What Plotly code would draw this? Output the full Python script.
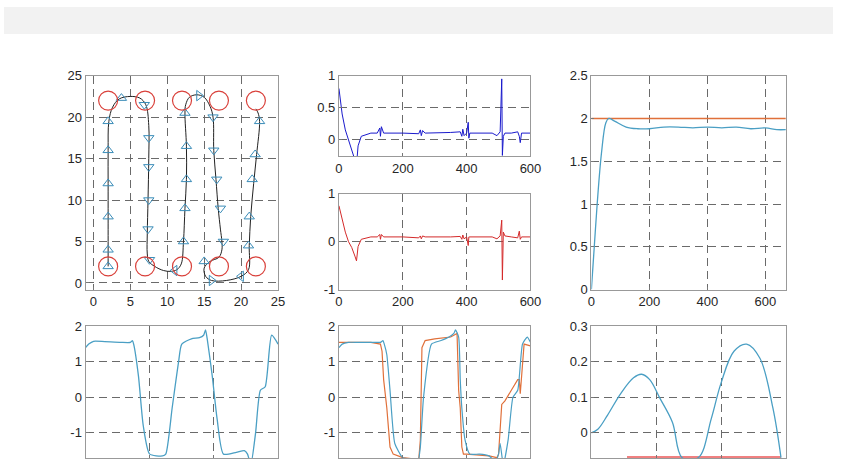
import plotly.graph_objects as go

# waypoints
wp_x = [2, 7, 12, 17, 22, 2, 7, 12, 17, 22]
wp_y = [22, 22, 22, 22, 22, 2, 2, 2, 2, 2]
# path
path_x = [2, 2, 2, 2, 2, 2.1, 2.6, 3.5, 5, 6.3, 7.1, 7.5, 7.5, 7.4, 7.3, 7.3, 7.5, 8.3, 9.5, 10.5, 11.3, 11.9, 12.2, 12.4, 12.6, 12.6, 12.4, 12.5, 13, 14, 15, 15.8, 16.2, 16.3, 16.6, 16.9, 17.2, 17.4, 17.4, 17, 15.8, 15, 15.2, 16, 18, 20, 21, 21.1, 21.3, 21.7, 22.1, 22.5, 22.3, 22]
path_y = [2, 5, 8, 12, 16, 19.5, 21.2, 22.2, 22.5, 22.3, 21.5, 19, 15, 10, 6, 3.5, 2.6, 2, 1.5, 1.4, 1.6, 2.3, 5, 9, 12.5, 16.5, 20.5, 21.5, 22.4, 22.7, 22.4, 21.3, 20, 16, 12.5, 9, 6.5, 5, 4, 3.1, 2.6, 1.8, 0.8, 0.3, 0.3, 0.8, 1.6, 4.5, 8, 12, 15.5, 19.5, 20.5, 21]
arr_x = [2, 2, 2, 2, 2, 2, 3.8, 6.9, 7.5, 7.5, 7.5, 7.4, 7.6, 11, 12.2, 12.4, 12.6, 12.6, 12.4, 14.3, 16.2, 16.3, 16.7, 17.2, 17.6, 15, 16, 20, 21, 21.1, 21.5, 21.9, 22.5]
arr_y = [2, 4, 8, 12, 16, 19.5, 22.3, 21.5, 17.5, 14, 10, 6.5, 2.8, 1.5, 5, 9, 12.5, 16.5, 20.5, 22.6, 20, 16, 12.5, 9, 5, 2.6, 0.3, 0.8, 4.5, 8, 12.5, 15.5, 19.5]
arr_sym = ["triangle-up"]*7 + ["triangle-down"]*6 + ["triangle-left"] + ["triangle-up"]*5 + ["triangle-right"] + ["triangle-down"]*5 + ["triangle-up", "triangle-right", "triangle-left"] + ["triangle-up"]*5

# error signals
e_t = [0, 10, 20, 30, 40, 50, 55, 60, 70, 100, 120, 128, 130, 133, 140, 200, 250, 255, 258, 262, 270, 350, 380, 385, 388, 392, 400, 405, 407, 410, 480, 495, 500, 505, 510, 512, 515, 520, 540, 560, 565, 568, 572, 580, 605]
e1 = [0.8, 0.4, 0.15, 0.0, -0.12, -0.3, -0.4, -0.1, 0.05, 0.1, 0.1, 0.18, 0.05, 0.2, 0.1, 0.1, 0.09, 0.15, 0.06, 0.14, 0.1, 0.11, 0.12, 0.05, 0.16, 0.06, 0.1, 0.27, 0.02, 0.1, 0.1, 0.06, 0.1, 0.12, 0.95, -0.25, 0.05, 0.1, 0.1, 0.12, 0.05, -0.05, 0.1, 0.1, 0.1]
e2 = [0.75, 0.45, 0.2, 0.0, -0.12, -0.3, -0.4, -0.1, 0.05, 0.1, 0.1, 0.15, 0.05, 0.15, 0.1, 0.1, 0.08, 0.12, 0.06, 0.12, 0.1, 0.1, 0.11, 0.05, 0.14, 0.06, 0.1, -0.08, 0.1, 0.1, 0.1, 0.06, 0.1, 0.12, 0.45, -0.8, 0.2, 0.12, 0.1, 0.08, 0.22, 0.05, 0.1, 0.1, 0.1]

# speed
v_t = [0, 10, 20, 35, 50, 60, 80, 120, 160, 200, 250, 300, 350, 400, 450, 500, 550, 600, 640, 671]
v = [0, 0.5, 1.0, 1.6, 1.95, 2.0, 1.97, 1.9, 1.88, 1.88, 1.9, 1.9, 1.89, 1.9, 1.89, 1.9, 1.88, 1.89, 1.87, 1.87]
v_ref = [2.0] * len(v_t)

# heading
h_t = [0, 10, 25, 60, 110, 140, 146, 150, 165, 180, 200, 240, 250, 270, 290, 300, 330, 355, 368, 374, 380, 395, 410, 430, 470, 495, 505, 515, 530, 545, 560, 580, 600]
h = [1.4, 1.5, 1.58, 1.57, 1.55, 1.55, 1.6, 1.5, 0.6, -0.8, -1.6, -1.65, -1.6, -0.3, 1.0, 1.5, 1.65, 1.68, 1.75, 1.9, 1.6, 0.6, -0.6, -1.6, -1.55, -1.5, -1.6, -1.9, -1.0, 0.2, 0.3, 1.75, 1.5]
h2_t = [0, 10, 30, 60, 110, 130, 138, 142, 150, 160, 175, 200, 240, 248, 255, 265, 290, 320, 345, 360, 365, 375, 380, 385, 395, 410, 440, 470, 490, 500, 505, 515, 530, 545, 560, 575, 590, 600]
h2 = [1.4, 1.5, 1.55, 1.55, 1.55, 1.55, 1.6, 1.5, 1.2, 0.2, -1.3, -1.7, -1.75, -1.8, -1.4, 0.0, 1.5, 1.6, 1.7, 1.8, 1.9, 1.7, 0.5, -0.3, -1.2, -1.6, -1.6, -1.65, -1.8, -1.6, -1.3, -1.9, -1.2, 0.0, 0.2, 1.5, 1.7, 1.55]
h2r_t = [0, 100, 130, 135, 140, 150, 160, 170, 200, 250, 255, 260, 270, 300, 350, 370, 375, 380, 385, 390, 400, 470, 495, 500, 510, 520, 540, 560, 565, 568, 580, 600]
h2r = [1.55, 1.55, 1.5, 1.3, 0.5, -0.3, -1.4, -1.6, -1.7, -1.75, -1.2, 1.4, 1.6, 1.65, 1.7, 1.8, 0.2, -0.3, -1.4, -1.6, -1.6, -1.65, -1.7, -1.6, -0.2, -0.1, 0.2, 0.5, 0.5, 0.1, 1.5, 1.45]

# lateral
l_t = [0, 20, 50, 90, 130, 155, 180, 210, 250, 280, 330, 370, 400, 440, 479, 520, 560, 585]
lat = [0, 0.01, 0.05, 0.11, 0.155, 0.165, 0.15, 0.1, 0.03, -0.07, -0.07, 0.04, 0.14, 0.23, 0.25, 0.21, 0.07, -0.07]
lr_t = [110, 585]
lr = [-0.068, -0.068]

fig = go.Figure()
BLUE = "#4a9fc4"
ORANGE = "#e0703a"
fig.add_trace(go.Scatter(x=path_x, y=path_y, mode="lines", line=dict(color="#222", width=1, shape="spline"), xaxis="x", yaxis="y"))
fig.add_trace(go.Scatter(x=arr_x, y=arr_y, mode="markers", marker=dict(symbol=arr_sym, size=9, color="rgba(0,0,0,0)", line=dict(color="#3a8cb8", width=1)), xaxis="x", yaxis="y"))
fig.add_trace(go.Scatter(x=wp_x, y=wp_y, mode="markers", marker=dict(symbol="circle-open", size=19, color="#d9403a", line=dict(width=1.2)), xaxis="x", yaxis="y"))
fig.add_trace(go.Scatter(x=e_t, y=e1, mode="lines", line=dict(color="#1a1acc", width=1), xaxis="x2", yaxis="y2"))
fig.add_trace(go.Scatter(x=e_t, y=e2, mode="lines", line=dict(color="#d42a2a", width=1), xaxis="x3", yaxis="y3"))
fig.add_trace(go.Scatter(x=v_t, y=v_ref, mode="lines", line=dict(color=ORANGE, width=1.3), xaxis="x4", yaxis="y4"))
fig.add_trace(go.Scatter(x=v_t, y=v, mode="lines", line=dict(color=BLUE, width=1.3, shape="spline"), xaxis="x4", yaxis="y4"))
fig.add_trace(go.Scatter(x=h_t, y=h, mode="lines", line=dict(color=BLUE, width=1.3, shape="spline", smoothing=0.6), xaxis="x5", yaxis="y5"))
fig.add_trace(go.Scatter(x=h2r_t, y=h2r, mode="lines", line=dict(color=ORANGE, width=1.2), xaxis="x6", yaxis="y6"))
fig.add_trace(go.Scatter(x=h2_t, y=h2, mode="lines", line=dict(color=BLUE, width=1.2, shape="spline", smoothing=0.5), xaxis="x6", yaxis="y6"))
fig.add_trace(go.Scatter(x=lr_t, y=lr, mode="lines", line=dict(color="#f08080", width=2), xaxis="x7", yaxis="y7"))
fig.add_trace(go.Scatter(x=l_t, y=lat, mode="lines", line=dict(color=BLUE, width=1.3, shape="spline"), xaxis="x7", yaxis="y7"))

W, H = 844, 466
def dx(a, b): return [a / W, b / W]
def dy(top, bot): return [1 - bot / H, 1 - top / H]
grid = dict(showgrid=True, gridcolor="#6a6a6a", griddash="8px,5px", gridwidth=1, zeroline=False,
            showline=True, linecolor="#999", mirror=True, ticks="inside", ticklen=3, tickcolor="#777",
            tickfont=dict(family="Liberation Sans, Arial", size=13, color="#262626"))
axes = {
    1: (dx(83, 279), dy(71, 292), [-1.06, 25], [-0.8, 25], [0, 5, 10, 15, 20, 25], [0, 5, 10, 15, 20, 25], True),
    2: (dx(341, 536), dy(71, 154), [0, 600], [-0.26, 1], [0, 200, 400, 600], [0, 0.5, 1], True),
    3: (dx(341, 536), dy(193, 292), [0, 600], [-1, 1], [0, 200, 400, 600], [-1, 0, 1], True),
    4: (dx(598, 796), dy(71, 292), [0, 671], [0, 2.5], [0, 200, 400, 600], [0, 0.5, 1, 1.5, 2, 2.5], True),
    5: (dx(83, 279), dy(330, 466), [0, 600], [-1.709, 2], [0, 200, 400, 600], [-1, 0, 1, 2], False),
    6: (dx(341, 536), dy(330, 466), [0, 600], [-1.709, 2], [0, 200, 400, 600], [-1, 0, 1, 2], False),
    7: (dx(598, 796), dy(330, 466), [0, 600], [-0.071, 0.3], [0, 200, 400, 600], [0, 0.1, 0.2, 0.3], False),
}
lay = {}
for i, (xd, yd, xr, yr, xt, yt, showx) in axes.items():
    s = "" if i == 1 else str(i)
    lay["xaxis" + s] = dict(grid, domain=xd, range=xr, tickvals=xt, anchor="y" + s, showticklabels=showx)
    lay["yaxis" + s] = dict(grid, domain=yd, range=yr, tickvals=yt, ticktext=[("%g" % t) for t in yt], anchor="x" + s)
fig.update_layout(**lay, width=W, height=H, showlegend=False, margin=dict(l=0, r=0, t=0, b=0),
                  plot_bgcolor="white", paper_bgcolor="white",
                  shapes=[dict(type="rect", xref="paper", yref="paper", x0=0, x1=1, y0=1 - 28 / H, y1=1,
                               fillcolor="#f2f2f2", line=dict(width=0), layer="below")])
fig.write_html("out.html", config={"displayModeBar": False},
               post_script="document.body.style.margin='0';document.body.style.overflow='hidden';")
